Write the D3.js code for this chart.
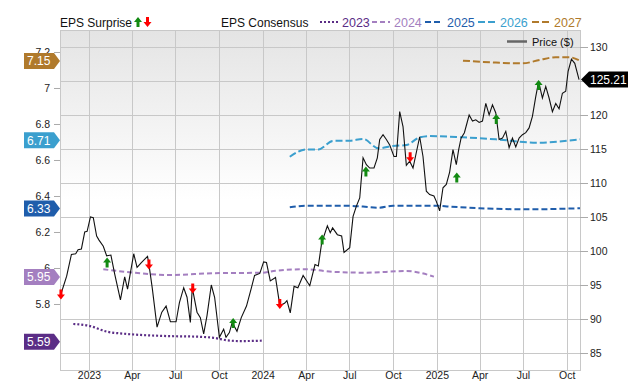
<!DOCTYPE html>
<html>
<head>
<meta charset="utf-8">
<script src="https://cdn.jsdelivr.net/npm/d3@7"></script>
<style>
  body { margin: 0; background: #fff; }
  svg { display: block; font-family: Arial, "Liberation Sans", sans-serif; }
</style>
</head>
<body>
<div id="chart"></div>
<script>
// Price line (weekly-ish closes)
const priceDates = ["2022-11-04","2022-11-15","2022-11-25","2022-12-04","2022-12-09","2022-12-16","2022-12-23","2022-12-28",
  "2023-01-04","2023-01-10","2023-01-17","2023-01-22","2023-01-31","2023-02-07","2023-02-16","2023-02-24","2023-03-08",
  "2023-03-17","2023-03-23","2023-04-05","2023-04-12","2023-04-21","2023-05-04","2023-05-07","2023-05-14","2023-05-24",
  "2023-06-03","2023-06-12","2023-06-21","2023-07-03","2023-07-10","2023-07-19","2023-07-26","2023-08-02","2023-08-06",
  "2023-08-16","2023-08-23","2023-08-30","2023-09-06","2023-09-15","2023-09-22","2023-10-02","2023-10-11","2023-10-16",
  "2023-10-23","2023-10-29","2023-11-08","2023-11-17","2023-11-28","2023-12-08","2023-12-15","2023-12-26","2024-01-03",
  "2024-01-09","2024-01-17","2024-01-28","2024-02-06","2024-02-16","2024-02-21","2024-02-28","2024-03-07","2024-03-15",
  "2024-03-26","2024-04-09","2024-04-20","2024-04-27","2024-05-04","2024-05-16","2024-05-22","2024-05-27","2024-06-06",
  "2024-06-15","2024-06-20","2024-07-02","2024-07-09","2024-07-16","2024-07-23","2024-07-30","2024-08-06","2024-08-13",
  "2024-08-22","2024-08-29","2024-09-03","2024-09-10","2024-09-17","2024-09-24","2024-10-03","2024-10-08","2024-10-15",
  "2024-10-22","2024-10-29","2024-11-05","2024-11-12","2024-11-26","2024-12-03","2024-12-10","2024-12-17","2024-12-26",
  "2024-12-31","2025-01-07","2025-01-14","2025-01-21","2025-01-28","2025-02-04","2025-02-11","2025-02-16","2025-02-21",
  "2025-02-28","2025-03-10","2025-03-17","2025-03-24","2025-03-31","2025-04-07","2025-04-14","2025-04-21","2025-04-28",
  "2025-05-05","2025-05-12","2025-05-19","2025-05-26","2025-06-02","2025-06-09","2025-06-16","2025-06-23","2025-06-30",
  "2025-07-07","2025-07-14","2025-07-21","2025-07-28","2025-08-03","2025-08-11","2025-08-18","2025-08-25","2025-09-01",
  "2025-09-08","2025-09-15","2025-09-22","2025-09-29","2025-10-04","2025-10-11","2025-10-18","2025-10-27"];
const priceValues = [93.9,96.3,99.5,99.6,100.2,100.3,102.8,102.9,
  105.0,104.9,102.2,101.6,100.7,99.3,99.4,96.6,92.8,
  96.2,94.4,99.6,97.6,98.3,99.2,98.0,94.5,88.8,
  91.0,91.9,89.6,89.6,92.4,94.6,93.2,89.5,94.6,
  91.0,90.2,87.8,90.5,95.0,93.2,87.3,88.5,87.3,
  88.0,89.5,88.2,90.2,91.9,94.5,96.4,96.7,98.4,
  98.3,95.6,96.1,92.0,92.3,92.7,90.9,94.8,94.6,
  96.4,94.9,98.0,97.8,101.2,103.7,102.7,103.4,102.4,
  102.2,99.8,100.5,105.1,106.6,107.8,113.7,112.7,112.2,
  112.2,113.7,116.4,117.1,116.4,115.6,113.9,113.9,120.5,
  118.3,112.6,113.2,112.2,116.8,113.9,108.8,108.3,108.1,
  107.3,105.9,109.3,109.8,111.6,114.9,112.7,114.9,116.6,
  117.4,120.0,119.1,119.3,118.9,119.1,121.7,120.0,121.5,
  120.3,116.4,116.6,117.6,115.2,116.6,115.3,116.6,117.1,
  117.4,118.1,119.8,122.7,124.9,122.5,124.2,122.5,120.5,
  121.7,120.9,123.2,123.5,126.4,128.2,127.6,125.21];

// EPS consensus by fiscal year
const years = ["2023","2024","2025","2026","2027"];
const yearColors = ["#5b2d86","#a47fc0","#1f5dab","#3b9fce","#b07a2c"];
const yearLast = [5.59, 5.95, 6.33, 6.71, 7.15];
const eps2023Dates = ["2022-11-29","2022-12-30","2023-02-10","2023-03-15","2023-04-20","2023-06-12","2023-08-21","2023-09-20","2023-10-20","2023-11-15","2023-12-30"];
const eps2023 = [5.689,5.680,5.645,5.635,5.628,5.622,5.618,5.612,5.598,5.594,5.596];
const eps2024Dates = ["2023-01-31","2023-04-04","2023-06-21","2023-09-20","2024-01-01","2024-01-28","2024-04-02","2024-05-27","2024-08-06","2024-10-29","2024-12-26"];
const eps2024 = [5.993,5.974,5.961,5.971,5.974,5.985,5.993,5.979,5.974,5.983,5.952];
const eps2025Dates = ["2024-02-27","2024-04-02","2024-06-25","2024-07-30","2024-08-31","2024-10-01","2024-12-31","2025-01-28","2025-03-31","2025-07-14","2025-10-29"];
const eps2025 = [6.337,6.346,6.346,6.341,6.335,6.346,6.346,6.341,6.332,6.326,6.332];
const eps2026Dates = ["2024-02-27","2024-04-02","2024-04-27","2024-05-28","2024-07-02","2024-07-30","2024-08-31","2024-10-01","2024-10-29","2024-11-26","2024-12-17","2025-02-25","2025-05-05","2025-07-29","2025-10-29"];
const eps2026 = [6.618,6.659,6.659,6.706,6.707,6.717,6.665,6.678,6.683,6.726,6.733,6.726,6.715,6.696,6.715];
const eps2027Dates = ["2025-02-25","2025-05-05","2025-07-01","2025-08-05","2025-09-08","2025-10-06","2025-10-29"];
const eps2027 = [7.152,7.141,7.137,7.156,7.171,7.171,7.152];

// EPS surprise markers
const surpriseDates = ["2022-11-03","2023-02-08","2023-05-07","2023-08-07","2023-10-31","2024-02-06","2024-05-05","2024-08-05","2024-11-06","2025-02-12","2025-05-06","2025-08-03"];
const surprisePrice = [93.6,98.3,98.0,94.5,89.4,92.2,101.7,111.7,113.8,110.8,119.4,124.4];
const surpriseType = ["down","up","down","down","up","down","up","up","down","up","up","up"];

const leftTicks = [5.8,6,6.2,6.4,6.6,6.8,7,7.2];
const rightTicks = [85,90,95,100,105,110,115,120,125,130];

const W = 640, H = 382;
const pl = 60, pr = 580, pt = 30, pb = 370;
const parse = d3.timeParse("%Y-%m-%d");

const svg = d3.select("#chart").append("svg").attr("width", W).attr("height", H);

const x = d3.scaleTime().domain([parse("2022-11-01"), parse("2025-10-29")]).range([pl, pr]);
const yR = d3.scaleLinear().domain([82.5, 132.5]).range([pb, pt]);
const yL = d3.scaleLinear().domain([5.4333, 7.3222]).range([pb, pt]);

// background gradient
const defs = svg.append("defs");
const grad = defs.append("linearGradient").attr("id", "bg").attr("x1", 0).attr("y1", 0).attr("x2", 0).attr("y2", 1);
grad.append("stop").attr("offset", "0%").attr("stop-color", "#e4e4e4");
grad.append("stop").attr("offset", "50%").attr("stop-color", "#ffffff");
grad.append("stop").attr("offset", "100%").attr("stop-color", "#ffffff");
svg.append("rect").attr("x", pl).attr("y", pt).attr("width", pr - pl).attr("height", pb - pt).attr("fill", "url(#bg)");

// grid
const xTickDates = d3.timeMonth.every(3).range(parse("2023-01-01"), parse("2025-10-29"));
svg.append("g").selectAll("line").data(xTickDates).join("line")
  .attr("x1", d => Math.round(x(d)) + 0.5).attr("x2", d => Math.round(x(d)) + 0.5)
  .attr("y1", pt).attr("y2", pb).attr("stroke", "#c8c8c8");
svg.append("g").selectAll("line").data(rightTicks).join("line")
  .attr("x1", pl).attr("x2", pr)
  .attr("y1", d => Math.round(yR(d)) + 0.5).attr("y2", d => Math.round(yR(d)) + 0.5)
  .attr("stroke", "#c8c8c8");
svg.append("rect").attr("x", pl + 0.5).attr("y", pt + 0.5).attr("width", pr - pl).attr("height", pb - pt)
  .attr("fill", "none").attr("stroke", "#c8c8c8");

// axes
const fmtX = d => d.getMonth() === 0 ? d3.timeFormat("%Y")(d) : d3.timeFormat("%b")(d);
const gx = svg.append("g").attr("transform", `translate(0,${pb})`)
  .call(d3.axisBottom(x).tickValues(xTickDates).tickFormat(fmtX).tickSize(0).tickPadding(2));
const gl = svg.append("g").attr("transform", `translate(${pl},0)`)
  .call(d3.axisLeft(yL).tickValues(leftTicks).tickFormat(d => d3.format("")(d)).tickSize(6).tickPadding(4));
const gr = svg.append("g").attr("transform", `translate(${pr},0)`)
  .call(d3.axisRight(yR).tickValues(rightTicks).tickSize(8).tickPadding(2));
[gx, gl, gr].forEach(g => {
  g.select(".domain").remove();
  g.selectAll(".tick line").attr("stroke", "#aaa");
  g.selectAll("text").attr("fill", "#222").style("font-size", "10.5px")
    .style("font-family", "Arial, 'Liberation Sans', sans-serif");
});

// consensus lines
const epsSeries = [
  {dates: eps2023Dates, vals: eps2023, dash: "2,2", w: 2.2},
  {dates: eps2024Dates, vals: eps2024, dash: "5,3", w: 2},
  {dates: eps2025Dates, vals: eps2025, dash: "6,3", w: 2},
  {dates: eps2026Dates, vals: eps2026, dash: "7,3", w: 2},
  {dates: eps2027Dates, vals: eps2027, dash: "7,3", w: 2}
];
const epsLine = d3.line().x(d => x(d[0])).y(d => yL(d[1])).curve(d3.curveMonotoneX);
epsSeries.forEach((s, i) => {
  const pts = s.dates.map((d, j) => [parse(d), s.vals[j]]);
  svg.append("path").datum(pts).attr("d", epsLine)
    .attr("fill", "none").attr("stroke", yearColors[i])
    .attr("stroke-width", s.w).attr("stroke-dasharray", s.dash);
});

// price line
const priceData = priceDates.map((d, i) => [parse(d), priceValues[i]]);
svg.append("path").datum(priceData)
  .attr("d", d3.line().x(d => x(d[0])).y(d => yR(d[1])))
  .attr("fill", "none").attr("stroke", "#111").attr("stroke-width", 1.1);

// arrow shape
function arrowPath(cx, cy, dir) {
  const s = dir === "up" ? -1 : 1;
  return `M${cx - 4},${cy} L${cx},${cy + s * 5} L${cx + 4},${cy} L${cx + 1.5},${cy} L${cx + 1.5},${cy - s * 5} L${cx - 1.5},${cy - s * 5} L${cx - 1.5},${cy} Z`;
}
svg.append("g").selectAll("path").data(surpriseDates).join("path")
  .attr("d", (d, i) => arrowPath(x(parse(d)), yR(surprisePrice[i]), surpriseType[i]))
  .attr("fill", (d, i) => surpriseType[i] === "up" ? "#128a12" : "#ff0000");

// left value tags
const tags = svg.append("g");
yearLast.forEach((v, i) => {
  const cy = yL(v);
  tags.append("path")
    .attr("d", `M24,${cy - 8} L54,${cy - 8} L60,${cy} L54,${cy + 8} L24,${cy + 8} Z`)
    .attr("fill", yearColors[i]);
  tags.append("text").attr("x", 27).attr("y", cy + 4.5).attr("fill", "#fff")
    .style("font-size", "12px").text(d3.format(".2f")(v));
});

// right price tag (covers the 125 tick label, as in the original)
const lastPrice = priceValues[priceValues.length - 1];
const py = yR(lastPrice);
gr.selectAll(".tick").filter(d => Math.abs(yR(d) - py) < 9).select("text").remove();
svg.append("path")
  .attr("d", `M581,${py} L589,${py - 8} L628,${py - 8} L628,${py + 8} L589,${py + 8} Z`)
  .attr("fill", "#000");
svg.append("text").attr("x", 590).attr("y", py + 4.5).attr("fill", "#fff")
  .style("font-size", "12px").text(d3.format(".2f")(lastPrice));

// price legend inside plot
svg.append("line").attr("x1", 507).attr("x2", 527).attr("y1", 41.5).attr("y2", 41.5)
  .attr("stroke", "#666").attr("stroke-width", 2.5);
svg.append("text").attr("x", 532).attr("y", 45.5).attr("fill", "#111")
  .style("font-size", "11px").text("Price ($)");

// top legend
svg.append("text").attr("x", 60).attr("y", 27).attr("fill", "#111").style("font-size", "12px").text("EPS Surprise");
svg.append("path").attr("d", arrowPath(138, 22, "up")).attr("fill", "#128a12");
svg.append("path").attr("d", arrowPath(147.5, 22, "down")).attr("fill", "#ff0000");
svg.append("text").attr("x", 221).attr("y", 27).attr("fill", "#111").style("font-size", "12px").text("EPS Consensus");
const legX = [320, 372, 425, 478, 532];
years.forEach((yr, i) => {
  svg.append("line").attr("x1", legX[i]).attr("x2", legX[i] + 18).attr("y1", 22).attr("y2", 22)
    .attr("stroke", yearColors[i]).attr("stroke-width", 2.2).attr("stroke-dasharray", epsSeries[i].dash);
  svg.append("text").attr("x", legX[i] + 22).attr("y", 27).attr("fill", yearColors[i])
    .style("font-size", "12.5px").text(yr);
});
</script>
</body>
</html>
